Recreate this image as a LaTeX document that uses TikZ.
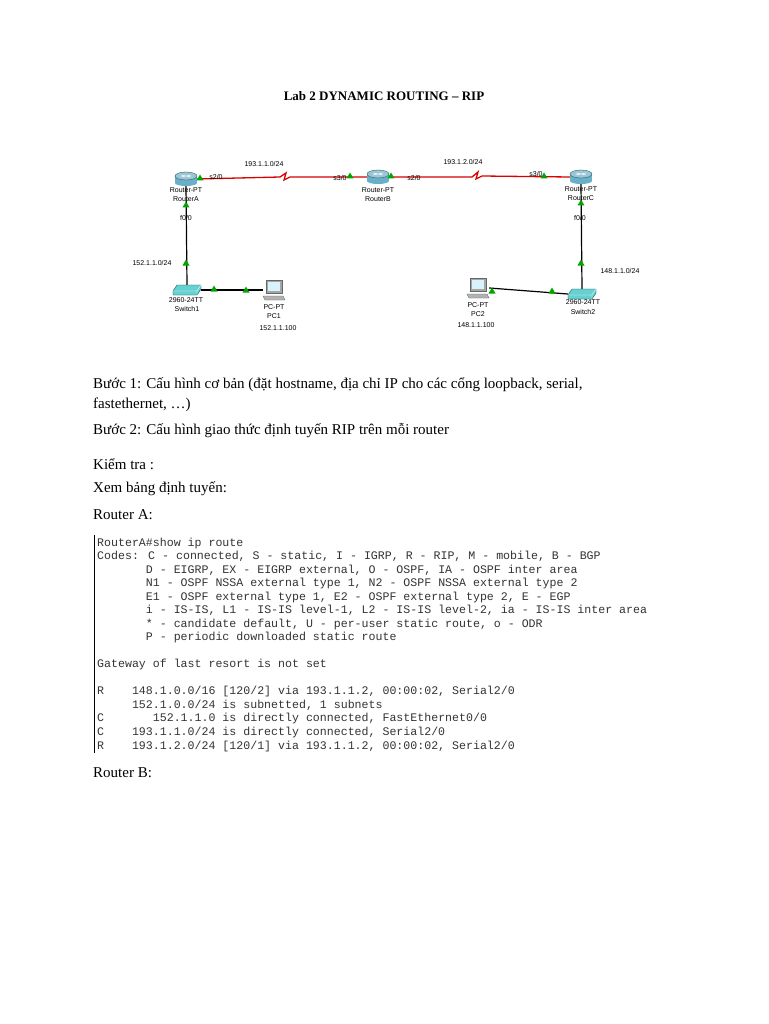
\documentclass[tikz,border=0pt]{standalone}
\usepackage{fontspec}
\usetikzlibrary{calc}
\setmainfont{Liberation Serif}
\newfontfamily\dsans{Liberation Sans}
\newfontfamily\cmono{Liberation Mono}
\begin{document}
\begin{tikzpicture}[x=1pt,y=-1pt,
  lbl/.style={font=\dsans\fontsize{7}{8}\selectfont,inner sep=0pt},
  body/.style={font=\fontsize{15}{17}\selectfont,anchor=west,inner sep=0pt},
  code/.style={font=\cmono\fontsize{11.6}{13}\selectfont,anchor=west,inner sep=0pt,text=black!80},
  router/.style={minimum width=22pt,minimum height=14pt,inner sep=0pt},
  sw/.style={minimum width=28pt,minimum height=10pt,inner sep=0pt},
  pc/.style={minimum width=22pt,minimum height=20pt,inner sep=0pt},
  serial/.style={red!85!black,line width=1.3pt},
  eth/.style={black,line width=1.2pt},
]
\path[use as bounding box,fill=white] (0,0) rectangle (768,1024);
% title
\node[font=\bfseries\fontsize{13}{15}\selectfont] (title) at (384,96) {Lab 2 DYNAMIC ROUTING -- RIP};
% devices
\node[router] (A) at (186,179) {};
\node[router] (B) at (378,177) {};
\node[router] (C) at (581,177) {};
\node[sw] (S1) at (187,290) {};
\node[sw] (S2) at (582,294) {};
\node[pc] (P1) at (274,290) {};
\node[pc] (P2) at (478,288) {};
% links
\coordinate (z1a) at (280,177); \coordinate (z1b) at (286,173); \coordinate (z1c) at (284,180); \coordinate (z1d) at (290,177);
\coordinate (z2a) at (472,177); \coordinate (z2b) at (478,172); \coordinate (z2c) at (476,179); \coordinate (z2d) at (482,176);
\draw[serial] (A.east) -- (z1a) -- (z1b) -- (z1c) -- (z1d) -- (B.west);
\draw[serial] (B.east) -- (z2a) -- (z2b) -- (z2c) -- (z2d) -- (C.west);
\draw[eth] (A.south) -- (S1.north);
\draw[eth] (C.south) -- (S2.north);
\draw[eth] (S1.east) -- (P1.west);
\draw[eth] (P2.east) -- (S2.west);
% device icons
\foreach \n in {A,B,C}{
  \fill[cyan!40!teal!70] ($(\n.center)+(-11,-3)$) rectangle ($(\n.center)+(11,4)$);
  \fill[cyan!40!teal!70] ($(\n.center)+(0,4)$) ellipse (11pt and 3pt);
  \fill[cyan!25!teal!45,draw=teal!60!black,line width=0.3pt] ($(\n.center)+(0,-3)$) ellipse (11pt and 4pt);
  \draw[white,line width=0.5pt] ($(\n.center)+(-5,-4)$) -- ($(\n.center)+(5,-2)$) ($(\n.center)+(-5,-2)$) -- ($(\n.center)+(5,-4)$);
}
\foreach \n in {S1,S2}{
  \fill[teal!60!cyan!60,draw=teal!60!black,line width=0.3pt] ($(\n.center)+(-14,5)$) -- ($(\n.center)+(10,5)$) -- ($(\n.center)+(14,-1)$) -- ($(\n.center)+(14,-5)$) -- ($(\n.center)+(-10,-5)$) -- ($(\n.center)+(-14,1)$) -- cycle;
  \draw[white,line width=0.3pt] ($(\n.center)+(-14,1)$) -- ($(\n.center)+(10,1)$) -- ($(\n.center)+(14,-5)$) ($(\n.center)+(10,1)$) -- ($(\n.center)+(10,5)$);
}
\foreach \n in {P1,P2}{
  \fill[gray!70,draw=black!60,line width=0.3pt] ($(\n.center)+(-8,-10)$) rectangle ($(\n.center)+(8,3)$);
  \fill[cyan!15] ($(\n.center)+(-6,-8)$) rectangle ($(\n.center)+(6,1)$);
  \fill[gray!60,draw=black!60,line width=0.3pt] ($(\n.center)+(-11,6)$) -- ($(\n.center)+(9,6)$) -- ($(\n.center)+(11,10)$) -- ($(\n.center)+(-9,10)$) -- cycle;
}
% green link markers
\foreach \p in {(200,178),(350,176),(391,176),(544,176),(186,205),(186,263),(214,289),(246,290),(492,291),(552,291),(581,203),(581,263)}{
  \fill[green!65!black] \p ++(-3.5,2.5) -- ++(7,0) -- ++(-3.5,-6) -- cycle;
}
% diagram labels
\node[lbl] (la1) at (186,190) {Router-PT};
\node[lbl] (la2) at (186,199) {RouterA};
\node[lbl] (lb1) at (378,190) {Router-PT};
\node[lbl] (lb2) at (378,199) {RouterB};
\node[lbl] (lc1) at (581,189) {Router-PT};
\node[lbl] (lc2) at (581,198) {RouterC};
\node[lbl] (pa) at (216,177) {s2/0};
\node[lbl] (pb1) at (340,178) {s3/0};
\node[lbl] (pb2) at (414,178) {s2/0};
\node[lbl] (pc1) at (536,174) {s3/0};
\node[lbl] (n1) at (264,164) {193.1.1.0/24};
\node[lbl] (n2) at (463,162) {193.1.2.0/24};
\node[lbl] (fa) at (186,218) {f0/0};
\node[lbl] (fc) at (580,218) {f0/0};
\node[lbl] (n3) at (152,263) {152.1.1.0/24};
\node[lbl] (n4) at (620,271) {148.1.1.0/24};
\node[lbl] (ls1a) at (186,300) {2960-24TT};
\node[lbl] (ls1b) at (187,309) {Switch1};
\node[lbl] (ls2a) at (583,302) {2960-24TT};
\node[lbl] (ls2b) at (583,312) {Switch2};
\node[lbl] (lp1a) at (274,307) {PC-PT};
\node[lbl] (lp1b) at (274,316) {PC1};
\node[lbl] (lp1c) at (278,328) {152.1.1.100};
\node[lbl] (lp2a) at (478,305) {PC-PT};
\node[lbl] (lp2b) at (478,314) {PC2};
\node[lbl] (lp2c) at (476,325) {148.1.1.100};
% body text
\node[body] (t1) at (93,385) {Bước 1: Cấu hình cơ bản (đặt hostname, địa chỉ IP cho các cổng loopback, serial,};
\node[body] (t2) at (93,405) {fastethernet, …)};
\node[body] (t3) at (93,431) {Bước 2: Cấu hình giao thức định tuyến RIP trên mỗi router};
\node[body] (t4) at (93,464) {Kiểm tra :};
\node[body] (t5) at (93,489) {Xem bảng định tuyến:};
\node[body] (t6) at (93,515) {Router A:};
\node[body] (t7) at (93,773) {Router B:};
% console
\draw[black,line width=0.8pt] (94,535) -- (94,753);
\node[code] at (97,543) {RouterA\#show ip route};
\node[code] at (97,556) {Codes: C - connected, S - static, I - IGRP, R - RIP, M - mobile, B - BGP};
\node[code] at (97,570) {\ \ \ \ \ \ \ D - EIGRP, EX - EIGRP external, O - OSPF, IA - OSPF inter area};
\node[code] at (97,583) {\ \ \ \ \ \ \ N1 - OSPF NSSA external type 1, N2 - OSPF NSSA external type 2};
\node[code] at (97,597) {\ \ \ \ \ \ \ E1 - OSPF external type 1, E2 - OSPF external type 2, E - EGP};
\node[code] at (97,610) {\ \ \ \ \ \ \ i - IS-IS, L1 - IS-IS level-1, L2 - IS-IS level-2, ia - IS-IS inter area};
\node[code] at (97,624) {\ \ \ \ \ \ \ * - candidate default, U - per-user static route, o - ODR};
\node[code] at (97,637) {\ \ \ \ \ \ \ P - periodic downloaded static route};
\node[code] at (97,664) {Gateway of last resort is not set};
\node[code] at (97,691) {R\ \ \ \ 148.1.0.0/16 [120/2] via 193.1.1.2, 00:00:02, Serial2/0};
\node[code] at (97,705) {\ \ \ \ \ 152.1.0.0/24 is subnetted, 1 subnets};
\node[code] at (97,718) {C\ \ \ \ \ \ \ 152.1.1.0 is directly connected, FastEthernet0/0};
\node[code] at (97,732) {C\ \ \ \ 193.1.1.0/24 is directly connected, Serial2/0};
\node[code] at (97,746) {R\ \ \ \ 193.1.2.0/24 [120/1] via 193.1.1.2, 00:00:02, Serial2/0};
\end{tikzpicture}
\end{document}
